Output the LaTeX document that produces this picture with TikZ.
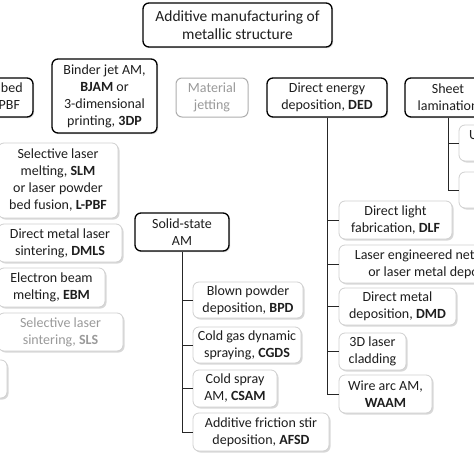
\documentclass[tikz,border=0pt]{standalone}
\usepackage{fontspec}
\setmainfont{Carlito}
\usetikzlibrary{shadows}
\definecolor{txt}{HTML}{1E1E1E}
\definecolor{greytxt}{HTML}{9A9A9A}
\definecolor{subedge}{HTML}{D0D0D0}
\tikzset{
  box/.style={rectangle, rounded corners=6pt, fill=white, align=center, inner sep=0pt, text=txt,
    font=\fontsize{14}{17}\selectfont},
  mainbox/.style={box, draw=black, line width=1.3pt,
    drop shadow={opacity=0.3, shadow xshift=1.2pt, shadow yshift=-1.2pt}},
  subbox/.style={box, draw=subedge, line width=0.8pt,
    drop shadow={opacity=0.3, shadow xshift=1.5pt, shadow yshift=-1.5pt}},
  greybox/.style={box, draw=greytxt!80, line width=1pt, text=greytxt},
  link/.style={draw=black!85, line width=0.9pt},
}
\begin{document}
\begin{tikzpicture}[x=1pt,y=-1pt]
\fill[white] (0,0) rectangle (474,474);
\useasboundingbox (0,0) rectangle (474,474);

% top
\node[mainbox, minimum width=189pt, minimum height=44pt, font=\fontsize{15.5}{18}\selectfont] (top) at (237.5,25)
  {Additive manufacturing of\\metallic structure};

% row of main categories
\node[mainbox, minimum width=89pt, minimum height=39pt] (pbf) at (-11.5,97.5)
  {Powder bed\\fusion, PBF};
\node[mainbox, minimum width=105pt, minimum height=74pt] (bj) at (104.5,96)
  {Binder jet AM,\\\textbf{BJAM} or\\3-dimensional\\printing, \textbf{3DP}};
\node[greybox, minimum width=72pt, minimum height=39pt] (mj) at (212,97.5)
  {Material\\jetting};
\node[mainbox, minimum width=120pt, minimum height=39pt] (ded) at (327,97.5)
  {Direct energy\\deposition, \textbf{DED}};
\node[mainbox, minimum width=86pt, minimum height=39pt] (sheet) at (448,97.5)
  {Sheet\\lamination};

% sheet lamination children
\node[subbox, minimum width=80pt, minimum height=36pt] (uam) at (499,143) {};
\node[anchor=west, inner sep=0pt, text=txt, font=\fontsize{14}{17}\selectfont] (uamtext) at (469,135.5) {U};
\node[subbox, minimum width=80pt, minimum height=36pt] (sl2) at (499,190) {};
\draw[link] (sheet.south) |- (sl2.west);
\draw[link] (sheet.south |- uam.west) -- (uam.west);

% powder bed fusion children
\node[subbox, minimum width=120pt, minimum height=75pt] (slm) at (58,180.5)
  {Selective laser\\melting, \textbf{SLM}\\or laser powder\\bed fusion, \textbf{L-PBF}};
\node[subbox, minimum width=124pt, minimum height=38pt] (dmls) at (60,243)
  {Direct metal laser\\sintering, \textbf{DMLS}};
\node[subbox, minimum width=107pt, minimum height=39pt] (ebm) at (51.5,287.5)
  {Electron beam\\melting, \textbf{EBM}};
\node[subbox, minimum width=125pt, minimum height=38pt, text=greytxt] (sls) at (60.5,332)
  {Selective laser\\sintering, \textbf{SLS}};
\node[subbox, minimum width=107pt, minimum height=38pt] (pbf5) at (-46.5,379) {};

% solid-state AM
\node[mainbox, minimum width=94pt, minimum height=38pt] (ss) at (182,232)
  {Solid-state\\AM};
\node[subbox, minimum width=110pt, minimum height=36pt] (bpd) at (248,300)
  {Blown powder\\deposition, \textbf{BPD}};
\node[subbox, minimum width=108pt, minimum height=36pt] (cgds) at (247,345)
  {Cold gas dynamic\\spraying, \textbf{CGDS}};
\node[subbox, minimum width=84pt, minimum height=37pt] (csam) at (235,388.5)
  {Cold spray\\AM, \textbf{CSAM}};
\node[subbox, minimum width=136pt, minimum height=38pt] (afsd) at (261,432)
  {Additive friction stir\\deposition, \textbf{AFSD}};
\draw[link] (ss.south) |- (afsd.west);
\foreach \n in {bpd,cgds,csam} \draw[link] (ss.south |- \n.west) -- (\n.west);

% DED children
\node[subbox, minimum width=113pt, minimum height=38pt] (dlf) at (395.5,220)
  {Direct light\\fabrication, \textbf{DLF}};
\node[subbox, minimum width=234pt, minimum height=38pt] (lens) at (456,264)
  {Laser engineered net shaping, \textbf{LENS}\\or laser metal deposition, \textbf{LMD}};
\node[subbox, minimum width=117pt, minimum height=37pt] (dmd) at (397.5,306.5)
  {Direct metal\\deposition, \textbf{DMD}};
\node[subbox, minimum width=67pt, minimum height=37pt] (clad) at (372.5,351.5)
  {3D laser\\cladding};
\node[subbox, minimum width=93pt, minimum height=38pt] (waam) at (385.5,394)
  {Wire arc AM,\\\textbf{WAAM}};
\draw[link] (ded.south) |- (waam.west);
\foreach \n in {dlf,lens,dmd,clad} \draw[link] (ded.south |- \n.west) -- (\n.west);

\end{tikzpicture}
\end{document}
